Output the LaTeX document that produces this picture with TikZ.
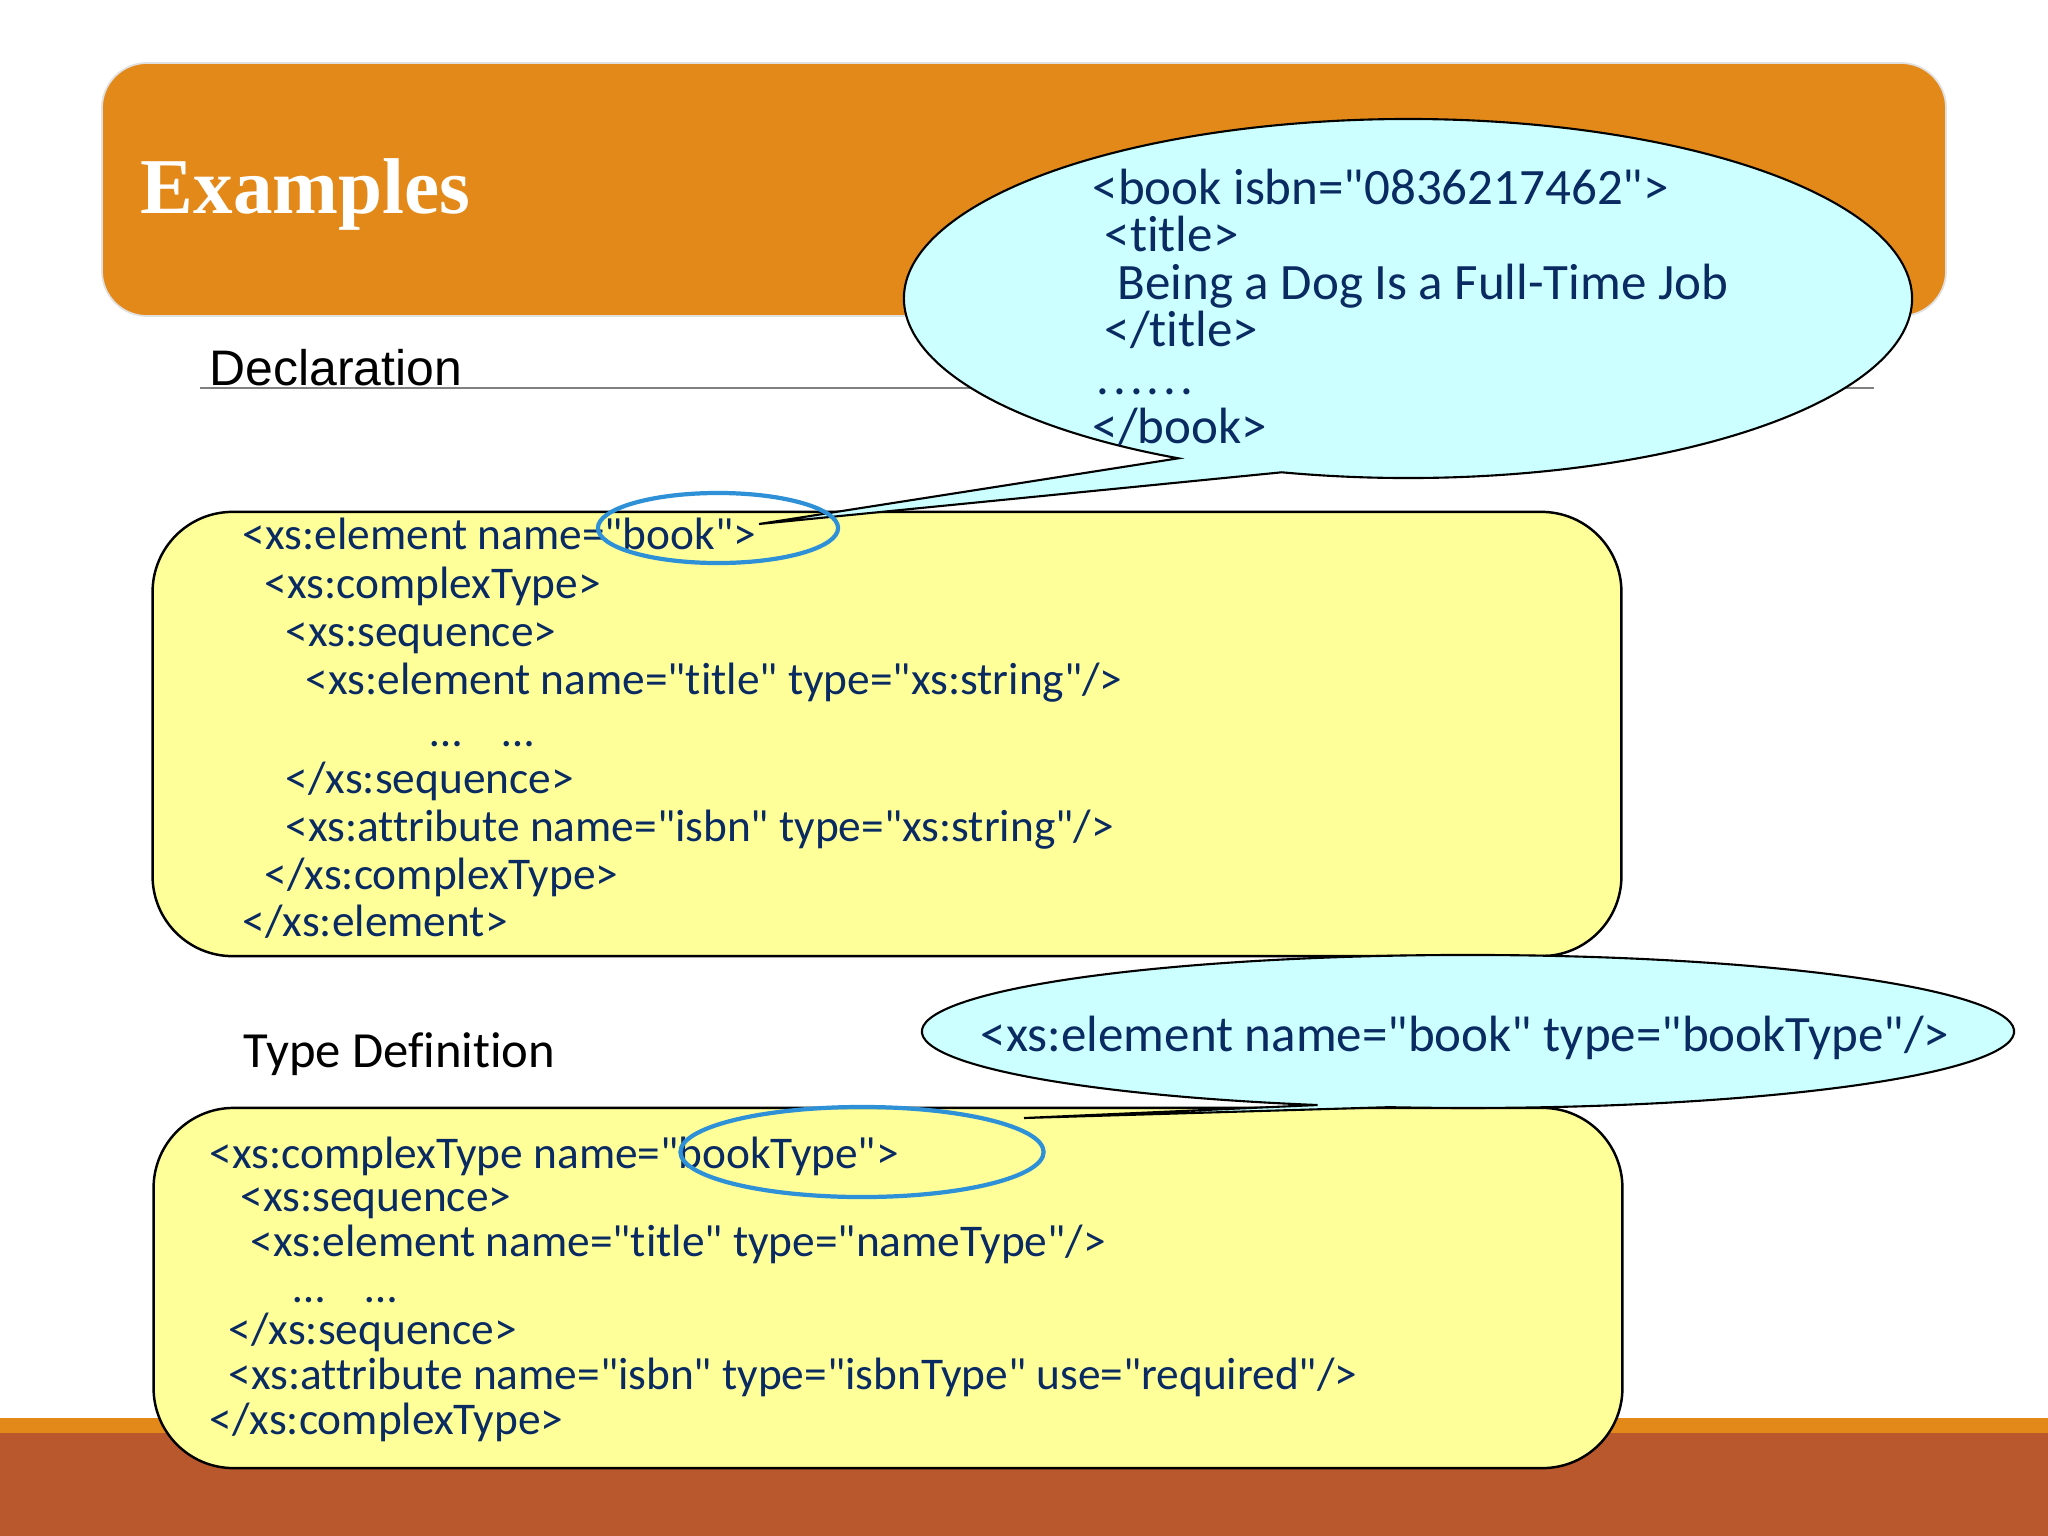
\documentclass[tikz,border=0pt]{standalone}
\usepackage{fontspec}
\setmainfont{Carlito}[Ligatures={TeXOff,NoCommon}]
\newfontfamily\serifbold{Liberation Serif}
\newfontfamily\arialf{Liberation Sans}
\usetikzlibrary{shapes.geometric}
\definecolor{barorange}{HTML}{E3891A}
\definecolor{rust}{HTML}{B9582D}
\definecolor{boxyellow}{HTML}{FFFF99}
\definecolor{bubcyan}{HTML}{CCFFFF}
\definecolor{codeblue}{HTML}{0A2A62}
\definecolor{hlblue}{HTML}{2E90D6}
\newcommand{\sixdots}{.\kern1.1pt.\kern1.1pt.\kern1.1pt.\kern1.1pt.\kern1.1pt.}
\tikzset{
 codebox/.style={draw=black, line width=0.7pt, fill=boxyellow, rounded corners=0.8cm, inner sep=0, rectangle},
 codeA/.style={anchor=base west, inner sep=0, text=codeblue, font=\fontsize{12.9}{15}\selectfont},
 bubtext/.style={anchor=base west, inner sep=0, text=codeblue, font=\fontsize{14.5}{17}\selectfont},
 bubble/.style={draw=black, line width=0.6pt, fill=bubcyan},
 hilite/.style={draw=hlblue, line width=1.2pt, ellipse, inner sep=0},
}
\begin{document}
\begin{tikzpicture}[x=0.01cm,y=-0.01cm]
\useasboundingbox (0,0) rectangle (2048,1536);
\fill[white] (0,0) rectangle (2048,1536);
% bottom band
\fill[barorange] (0,1418) rectangle (2048,1433);
\fill[rust] (0,1433) rectangle (2048,1536);
% title bar
\path[fill=barorange, draw=white!88!black, line width=0.5pt, rounded corners=0.45cm] (102,63) rectangle (1946,316);
\node[anchor=base west, inner sep=0, text=white, font=\serifbold\bfseries\fontsize{22.5}{26}\selectfont] (title) at (140,213) {Examples};
% declaration heading
\node[anchor=base west, inner sep=0, text=black, font=\arialf\fontsize{14.2}{17}\selectfont] (declhead) at (209,385) {Declaration};
\draw[gray, line width=0.5pt] (200,388) -- (1874,388);
% box 1
\node[codebox, minimum width=14.68cm, minimum height=4.44cm] (box1) at (887,734) {};
% callout 1
\coordinate (tip1) at (759,524);
\path[bubble] (1178.4,458.3) arc[start angle=117.1, end angle=464.5, x radius=504, y radius=179.5] -- (tip1) -- cycle;
\node[bubtext] (c1a) at (1092,204) {<book isbn="0836217462">};
\node[bubtext] (c1b) at (1104,251) {<title>};
\node[bubtext] (c1c) at (1117,299) {Being a Dog Is a Full-Time Job};
\node[bubtext] (c1d) at (1104,346) {</title>};
\node[bubtext] (c1e) at (1096,394) {\sixdots};
\node[bubtext] (c1f) at (1092,443) {</book>};
% box 1 text
\node[codeA] (b1a) at (242,549) {<xs:element name="book">};
\node[codeA] (b1b) at (264,598) {<xs:complexType>};
\node[codeA] (b1c) at (285,646) {<xs:sequence>};
\node[codeA] (b1d) at (305,694) {<xs:element name="title" type="xs:string"/>};
\node[codeA] (b1e) at (430,746) {…\hspace{0.9em}…};
\node[codeA] (b1f) at (285,793) {</xs:sequence>};
\node[codeA] (b1g) at (285,841) {<xs:attribute name="isbn" type="xs:string"/>};
\node[codeA] (b1h) at (264,889) {</xs:complexType>};
\node[codeA] (b1i) at (242,936) {</xs:element>};
\node[hilite, minimum width=2.40cm, minimum height=0.70cm] (hl1) at (718,528) {};
% type definition
\node[anchor=base west, inner sep=0, text=black, font=\fontsize{14.4}{17}\selectfont] (typehead) at (243,1067) {Type Definition};
% box 2
\node[codebox, minimum width=14.68cm, minimum height=3.60cm] (box2) at (888,1288) {};
% callout 2
\coordinate (tip2) at (1024,1118);
\path[bubble] (1317.5,1105.0) arc[start angle=106, end angle=458.3, x radius=546, y radius=76.5] -- (tip2) -- cycle;
\node[bubtext] (c2) at (980,1051) {<xs:element name="book" type="bookType"/>};
% box 2 text
\node[codeA] (b2a) at (209,1168) {<xs:complexType name="bookType">};
\node[codeA] (b2b) at (240,1211) {<xs:sequence>};
\node[codeA] (b2c) at (250,1256) {<xs:element name="title" type="nameType"/>};
\node[codeA] (b2d) at (293,1302) {…\hspace{0.9em}…};
\node[codeA] (b2e) at (228,1344) {</xs:sequence>};
\node[codeA] (b2f) at (228,1389) {<xs:attribute name="isbn" type="isbnType" use="required"/>};
\node[codeA] (b2g) at (209,1434) {</xs:complexType>};
\node[hilite, minimum width=3.63cm, minimum height=0.90cm] (hl2) at (862,1152) {};
\end{tikzpicture}
\end{document}
